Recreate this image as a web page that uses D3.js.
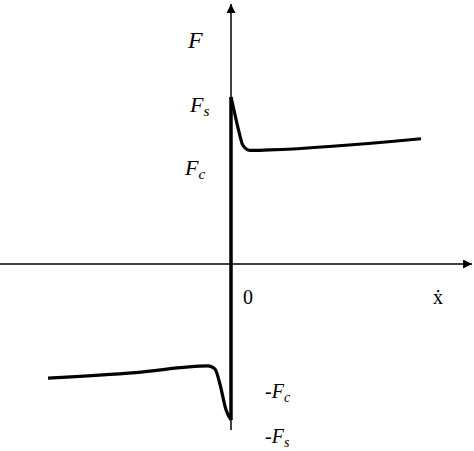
<!DOCTYPE html>
<html lang="en">
<head>
<meta charset="UTF-8">
<title>Stribeck friction</title>
<script src="https://d3js.org/d3.v7.min.js"></script>
<style>
  body { margin: 0; background: #fff; }
  text { font-family: "Liberation Serif", "DejaVu Serif", serif; fill: #000; }
</style>
</head>
<body>
<svg id="chart" width="474" height="451"></svg>
<script>
// velocity / force pairs (force normalised to Fs = 1)
const posVel = [0, 0.01, 0.04, 0.063, 0.1, 0.2, 1.0];
const posForce = [1.0, 0.95, 0.80, 0.71, 0.68, 0.683, 0.75];
const negVel = [-0.963, -0.5, -0.121, -0.084, -0.058, -0.026, 0];
const negForce = [-0.683, -0.65, -0.61, -0.63, -0.72, -0.874, -0.934];
const levelLabels = [
  { name: "F", sub: "s", value: 1.0 },
  { name: "F", sub: "c", value: 0.64 }
];

const svg = d3.select("#chart");
const x = d3.scaleLinear().domain([-1, 1]).range([41, 421]);
const y = d3.scaleLinear().domain([-1, 1]).range([431, 97]);

const marker = svg.append("defs").append("marker")
  .attr("id", "arrow").attr("viewBox", "0 0 10 10")
  .attr("refX", 10).attr("refY", 5)
  .attr("markerWidth", 9).attr("markerHeight", 9)
  .attr("markerUnits", "userSpaceOnUse")
  .attr("orient", "auto");
marker.append("path").attr("d", "M0,0L10,5L0,10z").attr("fill", "#000");

// axes
svg.append("line")
  .attr("x1", 0).attr("x2", 472).attr("y1", y(0)).attr("y2", y(0))
  .attr("stroke", "#000").attr("stroke-width", 1.5).attr("marker-end", "url(#arrow)");
svg.append("line")
  .attr("x1", x(0)).attr("x2", x(0)).attr("y1", 430).attr("y2", 4)
  .attr("stroke", "#000").attr("stroke-width", 1.5).attr("marker-end", "url(#arrow)");

const line = d3.line().x(d => x(d[0])).y(d => y(d[1])).curve(d3.curveMonotoneX);
const curve = g => g.attr("fill", "none").attr("stroke", "#000")
  .attr("stroke-width", 3.2).attr("stroke-linejoin", "round");

svg.append("path").datum(d3.zip(posVel, posForce)).attr("d", line).call(curve);
svg.append("path").datum(d3.zip(negVel, negForce)).attr("d", line).call(curve);
svg.append("line")
  .attr("x1", x(0)).attr("x2", x(0))
  .attr("y1", y(negForce[negForce.length - 1])).attr("y2", y(posForce[0]))
  .attr("stroke", "#000").attr("stroke-width", 3.5);

// labels
const lab = (px, py, main, sub, size) => {
  const t = svg.append("text").attr("x", px).attr("y", py)
    .attr("font-size", size).attr("font-style", "italic");
  t.append("tspan").text(main);
  if (sub) t.append("tspan").attr("font-size", size * 0.7).attr("dy", 4).text(sub);
};
lab(188, 48, "F", null, 24);
lab(190, y(levelLabels[0].value) + 15, levelLabels[0].name, levelLabels[0].sub, 22);
lab(185, y(levelLabels[1].value) + 18, levelLabels[1].name, levelLabels[1].sub, 22);
lab(265, 398, "-F", "c", 20);
lab(265, 443, "-F", "s", 20);
svg.append("text").attr("x", 243).attr("y", 304).attr("font-size", 20).text("0");
svg.append("text").attr("x", 433).attr("y", 304).attr("font-size", 20).text("ẋ");
</script>
</body>
</html>
